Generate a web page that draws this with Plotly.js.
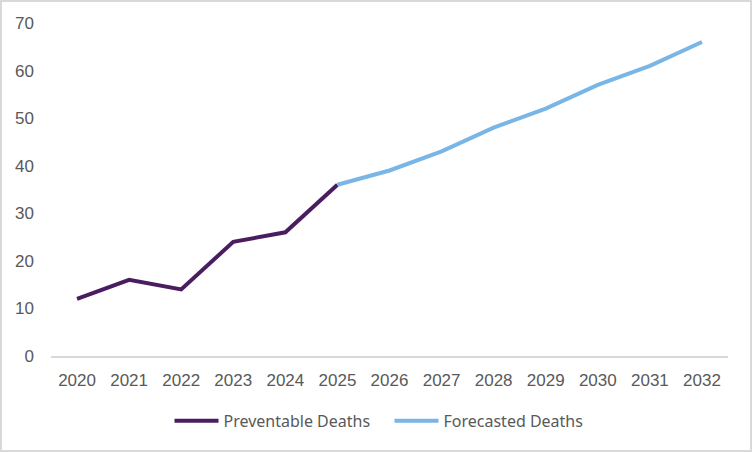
<!DOCTYPE html>
<html>
<head>
<meta charset="utf-8">
<script src="https://cdn.plot.ly/plotly-3.0.1.min.js"></script>
<style>
html,body{margin:0;padding:0;background:#fff;}
#chart{width:752px;height:452px;box-sizing:border-box;border:2px solid #d9d9d9;}
</style>
</head>
<body>
<div id="chart"></div>
<script>
const years = ["2020","2021","2022","2023","2024","2025","2026","2027","2028","2029","2030","2031","2032"];
const preventableYears = ["2020","2021","2022","2023","2024","2025"];
const preventableDeaths = [12, 16, 14, 24, 26, 36];
const forecastYears = ["2025","2026","2027","2028","2029","2030","2031","2032"];
const forecastedDeaths = [36, 39, 43, 48, 52, 57, 61, 66];
const yTicks = [0, 10, 20, 30, 40, 50, 60, 70];

const traces = [
  {x: preventableYears, y: preventableDeaths, type: 'scatter', mode: 'lines', name: 'Preventable Deaths',
   line: {color: '#4a1d60', width: 4}},
  {x: forecastYears, y: forecastedDeaths, type: 'scatter', mode: 'lines', name: 'Forecasted Deaths',
   line: {color: '#79b6e6', width: 4}}
];

const layout = {
  width: 748, height: 448,
  margin: {l: 49, r: 22, t: 21, b: 94},
  paper_bgcolor: '#fff', plot_bgcolor: '#fff',
  showlegend: true,
  font: {family: 'Liberation Sans, Arial, sans-serif', color: '#595959', size: 15},
  xaxis: {type: 'category', categoryarray: years, categoryorder: 'array', range: [-0.5, 12.5],
    showgrid: false, zeroline: false, showline: true, linecolor: '#d9d9d9', linewidth: 2,
    ticks: '', ticklabelstandoff: 8, tickfont: {size: 17, color: '#595959'}},
  yaxis: {range: [0, 70], tickvals: yTicks, showgrid: false, zeroline: false, showline: false,
    ticks: '', ticklabelstandoff: 16, tickfont: {size: 17, color: '#595959'}},
  legend: {orientation: 'h', x: 0.5, xanchor: 'center', y: -0.195, yanchor: 'middle',
    font: {family: 'Noto Sans, sans-serif', size: 16, color: '#595959'}, itemwidth: 44,
    entrywidth: 161}
};

Plotly.newPlot('chart', traces, layout, {displayModeBar: false, staticPlot: true});
</script>
</body>
</html>
